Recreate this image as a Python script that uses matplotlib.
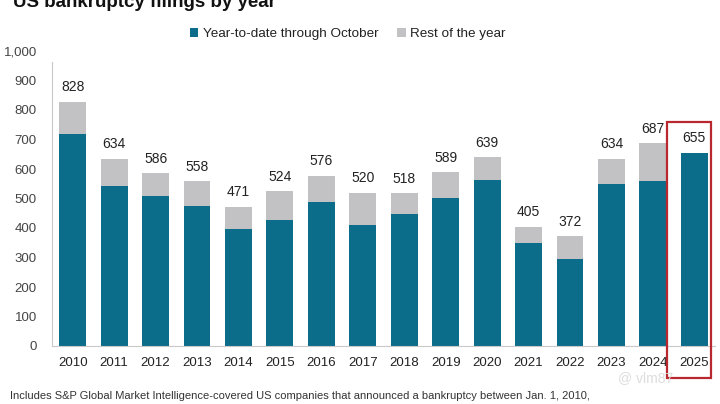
import matplotlib
matplotlib.use("Agg")
import matplotlib.pyplot as plt
from matplotlib.patches import Rectangle

years = ["2010", "2011", "2012", "2013", "2014", "2015", "2016", "2017",
         "2018", "2019", "2020", "2021", "2022", "2023", "2024", "2025"]
totals = [828, 634, 586, 558, 471, 524, 576, 520, 518, 589, 639, 405, 372, 634, 687, 655]
ytd = [717, 544, 510, 475, 396, 428, 487, 410, 446, 501, 563, 348, 296, 550, 561, 655]
rest = [t - y for t, y in zip(totals, ytd)]
yticks = [0, 100, 200, 300, 400, 500, 600, 700, 800, 900, 1000]
ytick_labels = ["0", "100", "200", "300", "400", "500", "600", "700", "800", "900", "1,000"]

title = "US bankruptcy filings by year"
legend_labels = ["Year-to-date through October", "Rest of the year"]
footnote = ("Includes S&P Global Market Intelligence-covered US companies that announced "
            "a bankruptcy between Jan. 1, 2010,")

BLUE = "#0b6d8a"
GRAY = "#c2c2c4"

plt.rcParams['font.family'] = ['Liberation Sans', 'DejaVu Sans']

fig = plt.figure(figsize=(7.2, 4.04), dpi=100)
ax = fig.add_axes([52/720, 1 - 346/404, (715-52)/720, (346-51)/404])

x = list(range(len(years)))
ax.bar(x, ytd, width=0.65, color=BLUE, label=legend_labels[0], zorder=2)
ax.bar(x, rest, bottom=ytd, width=0.65, color=GRAY, label=legend_labels[1], zorder=2)

for xi, t in zip(x, totals):
    ax.annotate(str(t), (xi, t), xytext=(0, 10.5), textcoords="offset points",
                ha="center", va="center", fontsize=10, color="#222222")

ax.set_xlim(-0.5, len(years) - 0.5)
ax.set_ylim(0, 1000)
ax.set_xticks(x)
ax.set_xticklabels(years, fontsize=9.5, color="#222222")
ax.set_yticks(yticks)
ax.set_yticklabels(ytick_labels, fontsize=9.5, color="#444444")
ax.tick_params(axis="x", length=0, pad=8)
ax.tick_params(axis="y", length=0, pad=11)
for s in ["top", "right"]:
    ax.spines[s].set_visible(False)
ax.spines["left"].set_color("#c8c8c8")
ax.spines["left"].set_bounds(0, 963)
ax.spines["bottom"].set_color("#c8c8c8")

leg = ax.legend(loc="center", bbox_to_anchor=(348/663 - 52/663 + 0.0, 1 + 17/295), ncol=2,
                frameon=False, fontsize=9.7, handlelength=0.6, handleheight=0.6,
                handletextpad=0.35, columnspacing=1.4, labelcolor="#222222",
                borderpad=0.0)

fig.text(13/720, 1 - 7/404, title, fontsize=13.5, fontweight="bold", va="baseline",
         ha="left", color="#111111")
fig.text(10/720, 1 - 396/404, footnote, fontsize=8.0, va="center", ha="left",
         color="#333333")
fig.text(618/720, 1 - 378/404, "@ vlm87", fontsize=10, va="center", ha="left",
         color="#dddddd")

fig.patches.append(Rectangle((667/720, 1 - 378/404), 44/720, 256/404,
                             transform=fig.transFigure, fill=False,
                             edgecolor="#b8282e", linewidth=1.6))

fig.savefig("out.png", dpi=100)
